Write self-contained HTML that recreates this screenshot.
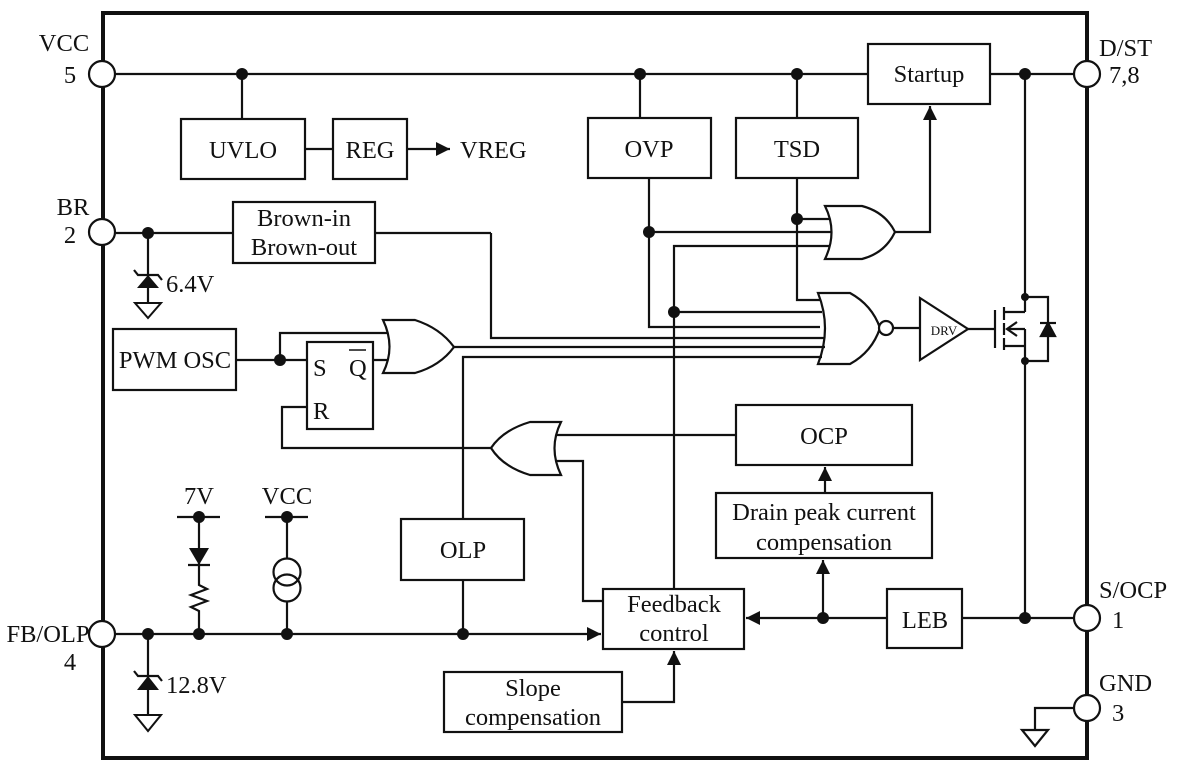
<!DOCTYPE html>
<html><head><meta charset="utf-8"><style>
html,body{margin:0;padding:0;background:#fff}
svg{display:block}
text{font-family:"Liberation Serif",serif;font-size:24.5px;fill:#111}
</style></head><body>
<svg width="1179" height="772" viewBox="0 0 1179 772" xmlns="http://www.w3.org/2000/svg">
<defs>
<marker id="ar" viewBox="0 0 10 10" refX="10" refY="5" markerWidth="14" markerHeight="14" markerUnits="userSpaceOnUse" orient="auto"><path d="M0,0 L10,5 L0,10 z" fill="#111"/></marker>
</defs>
<g stroke="#111" stroke-width="2.2" fill="none">
<rect x="103" y="13" width="984" height="745" stroke-width="4"/>
<line x1="116" y1="74" x2="868" y2="74"/>
<line x1="990" y1="74" x2="1074" y2="74"/>
<line x1="242" y1="74" x2="242" y2="119"/>
<line x1="640" y1="74" x2="640" y2="118"/>
<line x1="797" y1="74" x2="797" y2="118"/>
<rect x="868" y="44" width="122" height="60" fill="#fff"/>
<rect x="181" y="119" width="124" height="60"/>
<rect x="333" y="119" width="74" height="60"/>
<line x1="305" y1="149" x2="333" y2="149"/>
<line x1="407" y1="149" x2="450" y2="149" marker-end="url(#ar)"/>
<rect x="588" y="118" width="123" height="60"/>
<rect x="736" y="118" width="122" height="60"/>
<rect x="233" y="202" width="142" height="61"/>
<rect x="113" y="329" width="123" height="61"/>
<rect x="307" y="342" width="66" height="87"/>
<rect x="736" y="405" width="176" height="60"/>
<rect x="716" y="493" width="216" height="65"/>
<rect x="887" y="589" width="75" height="59"/>
<rect x="603" y="589" width="141" height="60"/>
<rect x="401" y="519" width="123" height="61"/>
<rect x="444" y="672" width="178" height="60"/>
<line x1="116" y1="233" x2="233" y2="233"/>
<line x1="148" y1="233" x2="148" y2="303"/>
<path d="M148,303 l-13,0 l13,15 l13,-15 z" stroke-width="2"/>
<path d="M134,270 l4,5 l20,0 l4,5"/>
<line x1="375" y1="233" x2="491" y2="233"/>
<polyline points="491,233 491,338 825,338"/>
<polyline points="649,178 649,327 820,327"/>
<line x1="649" y1="232" x2="832" y2="232"/>
<polyline points="797,178 797,300 822,300"/>
<line x1="797" y1="219" x2="830" y2="219"/>
<polyline points="674,589 674,246 830,246"/>
<line x1="674" y1="312" x2="822" y2="312"/>
<path d="M825,206 L862,206 Q885,212 895,232 Q885,253 862,259 L825,259 Q838,232 825,206 z" fill="#fff"/>
<polyline points="895,232 930,232 930,106" marker-end="url(#ar)"/>
<path d="M818,293 L850,293 Q872,305 880,328 Q872,352 850,364 L818,364 Q832,328 818,293 z" fill="#fff"/>
<circle cx="886" cy="328" r="7" fill="#fff"/>
<line x1="893" y1="328" x2="920" y2="328"/>
<path d="M920,298 L968,329 L920,360 z"/>
<line x1="968" y1="329" x2="995" y2="329"/>
<line x1="995" y1="310" x2="995" y2="348"/>
<line x1="1004" y1="307" x2="1004" y2="320"/>
<line x1="1004" y1="323" x2="1004" y2="335"/>
<line x1="1004" y1="338" x2="1004" y2="350"/>
<line x1="1004" y1="312" x2="1025" y2="312"/>
<line x1="1004" y1="346" x2="1025" y2="346"/>
<line x1="1025" y1="329" x2="1007" y2="329"/>
<path d="M1017,322 L1007,329 L1017,336"/>
<line x1="1025" y1="74" x2="1025" y2="312"/>
<line x1="1025" y1="329" x2="1025" y2="618"/>
<polyline points="1025,297 1048,297 1048,361 1025,361"/>
<path d="M1041,336 L1048,323 L1055,336 z" fill="#111"/>
<line x1="1040" y1="323" x2="1056" y2="323"/>
<line x1="236" y1="360" x2="307" y2="360"/>
<polyline points="280,360 280,333 390,333"/>
<line x1="373" y1="360" x2="390" y2="360"/>
<path d="M383,320 L415,320 Q440,328 454,347 Q440,366 415,373 L383,373 Q396,347 383,320 z" fill="#fff"/>
<line x1="454" y1="347" x2="825" y2="347"/>
<polyline points="463,519 463,357 822,357"/>
<polyline points="307,407 282,407 282,448 491,448"/>
<path d="M561,422 L530,422 Q503,430 491,448 Q503,467 530,475 L561,475 Q548,448 561,422 z" fill="#fff"/>
<line x1="556" y1="435" x2="736" y2="435"/>
<polyline points="556,461 583,461 583,601 603,601"/>
<line x1="1074" y1="618" x2="962" y2="618"/>
<line x1="887" y1="618" x2="746" y2="618" marker-end="url(#ar)"/>
<line x1="823" y1="618" x2="823" y2="560" marker-end="url(#ar)"/>
<line x1="825" y1="493" x2="825" y2="467" marker-end="url(#ar)"/>
<polyline points="622,702 674,702 674,651" marker-end="url(#ar)"/>
<line x1="463" y1="580" x2="463" y2="634"/>
<line x1="116" y1="634" x2="601" y2="634" marker-end="url(#ar)"/>
<line x1="148" y1="634" x2="148" y2="715"/>
<path d="M148,715 l-13,0 l13,16 l13,-16 z" stroke-width="2"/>
<path d="M134,671 l4,5 l20,0 l4,5"/>
<line x1="177" y1="517" x2="220" y2="517"/>
<line x1="199" y1="517" x2="199" y2="582"/>
<line x1="188" y1="565" x2="210" y2="565"/>
<polyline points="199,582 199,585 207,589 191,595 207,601 191,607 199,611 199,634"/>
<line x1="265" y1="517" x2="308" y2="517"/>
<line x1="287" y1="517" x2="287" y2="558"/>
<circle cx="287" cy="572" r="13.5"/>
<circle cx="287" cy="588" r="13.5"/>
<line x1="287" y1="602" x2="287" y2="634"/>
<polyline points="1074,708 1035,708 1035,730"/>
<path d="M1022,730 L1048,730 L1035,746 z"/>
<g fill="#fff">
<circle cx="102" cy="74" r="13"/>
<circle cx="102" cy="232" r="13"/>
<circle cx="102" cy="634" r="13"/>
<circle cx="1087" cy="74" r="13"/>
<circle cx="1087" cy="618" r="13"/>
<circle cx="1087" cy="708" r="13"/>
</g>
</g>
<path d="M199,565 L189,548 L209,548 z" fill="#111"/>
<path d="M148,275 L137,288 L159,288 z" fill="#111"/>
<path d="M148,676 L137,690 L159,690 z" fill="#111"/>
<g fill="#111">
<circle cx="242" cy="74" r="6"/><circle cx="640" cy="74" r="6"/><circle cx="797" cy="74" r="6"/><circle cx="1025" cy="74" r="6"/>
<circle cx="148" cy="233" r="6"/><circle cx="649" cy="232" r="6"/><circle cx="797" cy="219" r="6"/><circle cx="674" cy="312" r="6"/>
<circle cx="280" cy="360" r="6"/>
<circle cx="1025" cy="297" r="4"/><circle cx="1025" cy="361" r="4"/>
<circle cx="1025" cy="618" r="6"/><circle cx="823" cy="618" r="6"/>
<circle cx="148" cy="634" r="6"/><circle cx="199" cy="634" r="6"/><circle cx="287" cy="634" r="6"/><circle cx="463" cy="634" r="6"/>
<circle cx="199" cy="517" r="6"/><circle cx="287" cy="517" r="6"/>
</g>
<text x="64" y="51" text-anchor="middle">VCC</text><text x="70" y="83" text-anchor="middle">5</text>
<text x="73" y="215" text-anchor="middle">BR</text><text x="70" y="243" text-anchor="middle">2</text>
<text x="48" y="642" text-anchor="middle">FB/OLP</text><text x="70" y="670" text-anchor="middle">4</text>
<text x="1099" y="56">D/ST</text><text x="1109" y="83">7,8</text>
<text x="1099" y="598">S/OCP</text><text x="1112" y="628">1</text>
<text x="1099" y="691">GND</text><text x="1112" y="721">3</text>
<g text-anchor="middle">
<text x="929" y="82">Startup</text>
<text x="243" y="158">UVLO</text>
<text x="370" y="158">REG</text>
<text x="649" y="157">OVP</text>
<text x="797" y="157">TSD</text>
<text x="304" y="226">Brown-in</text><text x="304" y="255">Brown-out</text>
<text x="175" y="368">PWM OSC</text>
<text x="824" y="444">OCP</text>
<text x="824" y="520">Drain peak current</text><text x="824" y="550">compensation</text>
<text x="925" y="628">LEB</text>
<text x="674" y="612">Feedback</text><text x="674" y="641">control</text>
<text x="463" y="558">OLP</text>
<text x="533" y="696">Slope</text><text x="533" y="725">compensation</text>
<text x="199" y="504">7V</text>
<text x="287" y="504">VCC</text>
</g>
<text x="460" y="158">VREG</text>
<text x="166" y="292">6.4V</text>
<text x="166" y="693">12.8V</text>
<text x="313" y="376">S</text>
<text x="349" y="376">Q</text>
<line x1="349" y1="350" x2="366" y2="350" stroke="#111" stroke-width="1.5"/>
<text x="313" y="419">R</text>
<text x="944" y="335" text-anchor="middle" style="font-size:13px">DRV</text>
</svg>
</body></html>
